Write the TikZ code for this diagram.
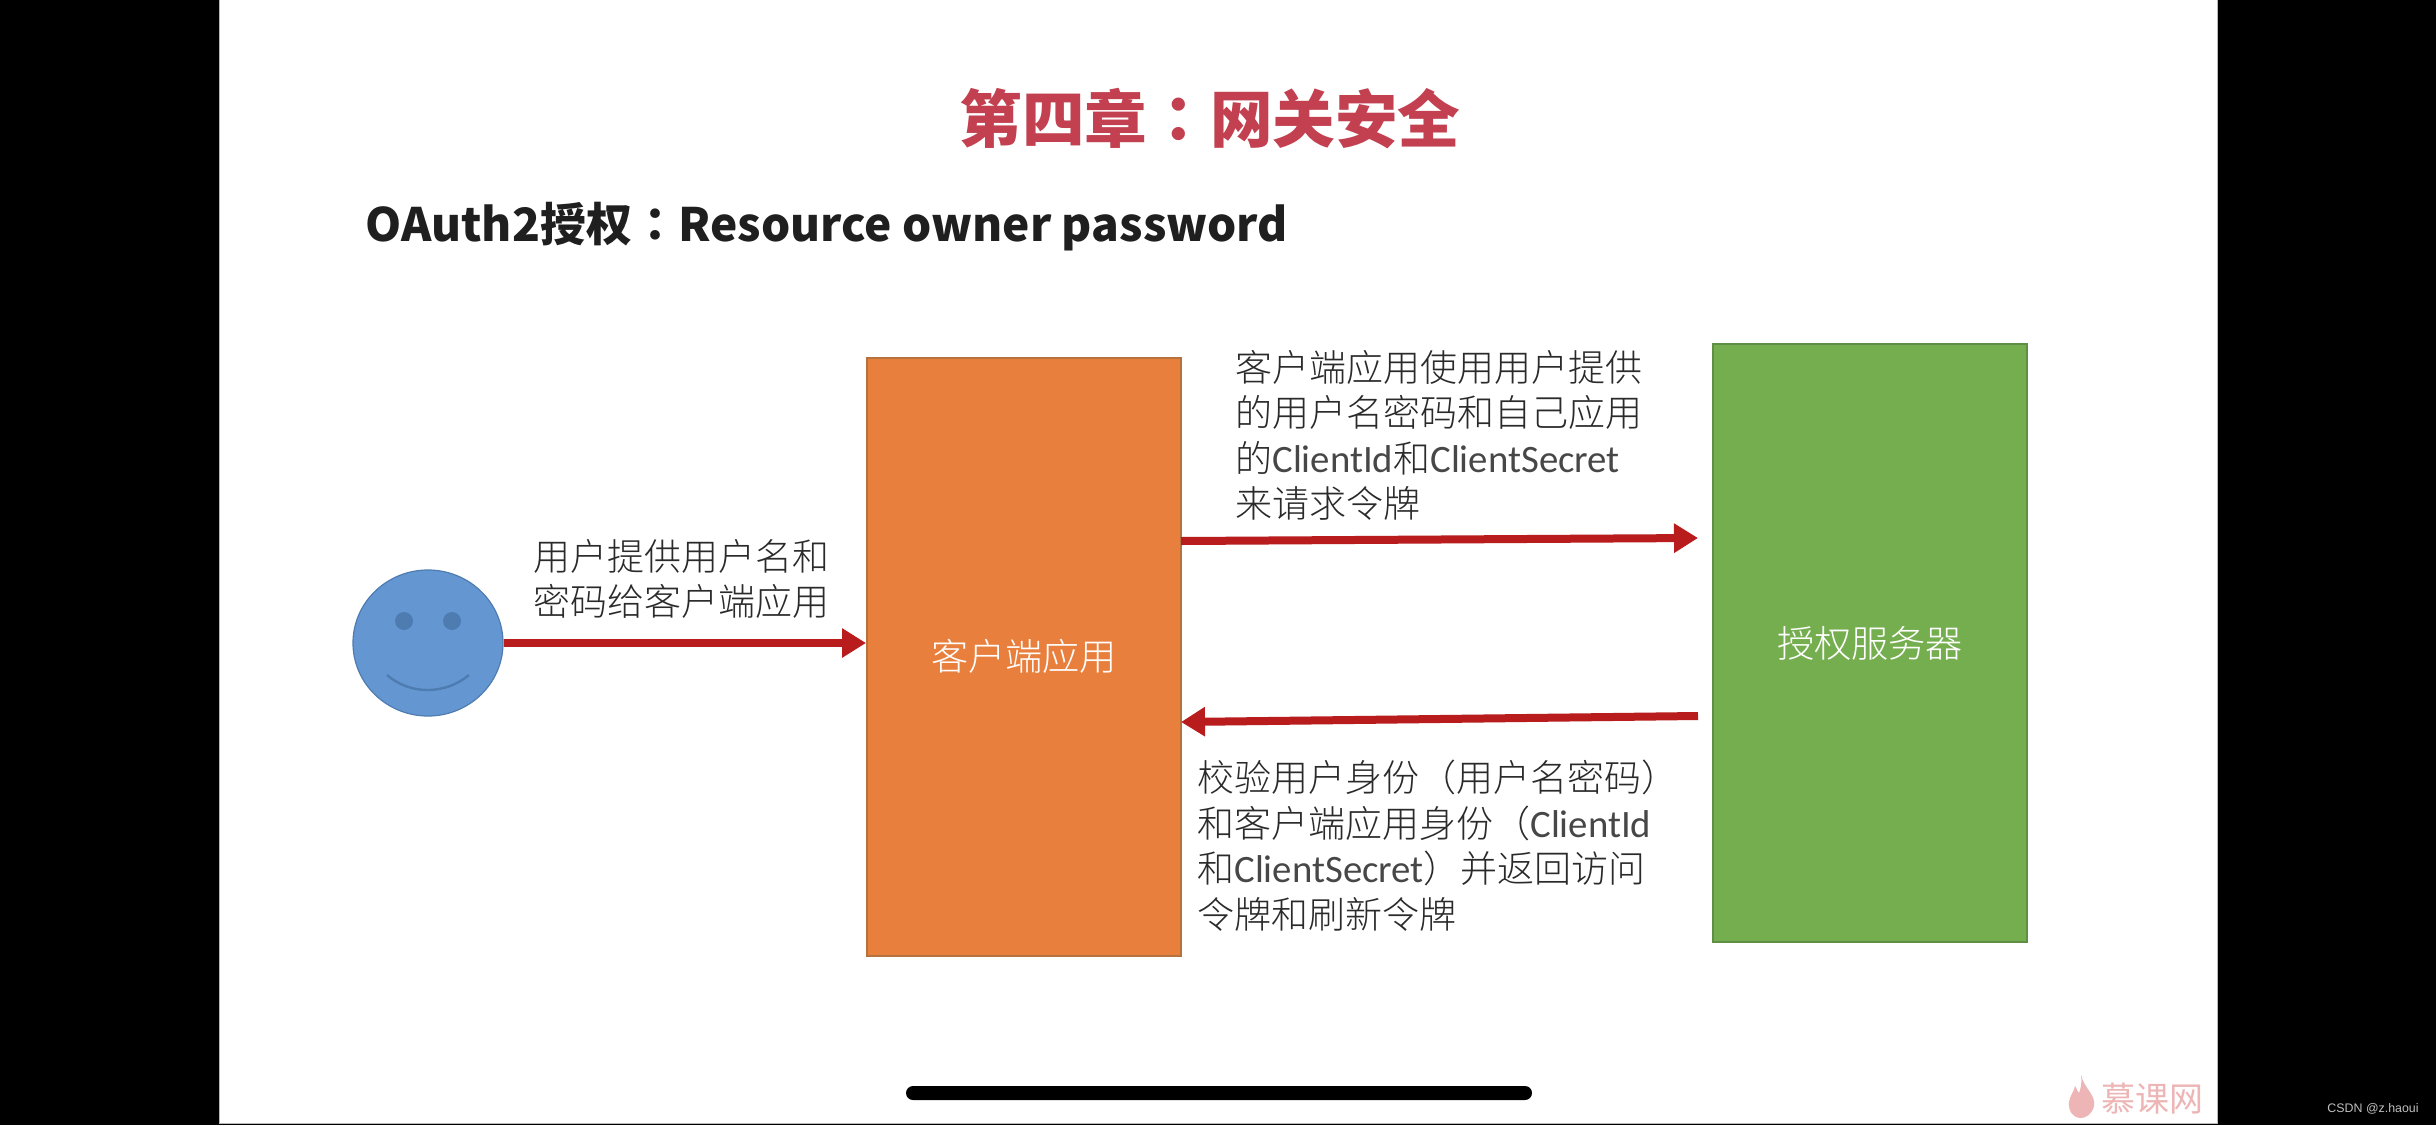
\documentclass[tikz,border=0pt]{standalone}
\usepackage{fontspec}
\setmainfont{Noto Sans CJK SC}
\newfontfamily\tcfont{Noto Sans CJK TC}
\newfontfamily\lightcjk{Noto Sans CJK SC Light}
\newfontfamily\latinpart{Carlito}
\newfontfamily\marksans{Liberation Sans}
\newcommand{\lat}[1]{{\latinpart\fontsize{19.4pt}{22.7pt}\selectfont\color{black!72}#1}}
\usetikzlibrary{arrows.meta,shapes.geometric}
\definecolor{panelline}{HTML}{B8B8B8}
\definecolor{titlered}{HTML}{C2404F}
\definecolor{inkc}{HTML}{2A2A2A}
\definecolor{orangebox}{HTML}{E97F3C}
\definecolor{orangeline}{HTML}{B5723F}
\definecolor{greenbox}{HTML}{75AE4F}
\definecolor{greenline}{HTML}{5F8F44}
\definecolor{faceblue}{HTML}{6497D2}
\definecolor{facedark}{HTML}{4E7CB0}
\definecolor{arrowred}{HTML}{B81C1C}
\definecolor{markpink}{HTML}{EDB5B5}
\tikzset{
  x=0.5pt,y=-0.5pt,
  boxnode/.style={draw,line width=1pt,minimum width=157pt,minimum height=299pt,inner sep=0pt,text=white,font=\lightcjk\fontsize{18.6pt}{22pt}\selectfont},
  labelnode/.style={anchor=north west,inner sep=0pt,align=left,text=inkc,font=\lightcjk\fontsize{18.5pt}{22.7pt}\selectfont},
  flow/.style={draw=arrowred,line width=4pt,-{Triangle[length=12pt,width=14pt,fill=arrowred]}},
}
\begin{document}
\begin{tikzpicture}
\useasboundingbox (0,0) rectangle (2436,1125);
\fill[black] (0,0) rectangle (2436,1125);
\fill[white,draw=panelline,line width=0.5pt] (219,-2) rectangle (2217,1123);

\node[inner sep=0pt,text=titlered,font=\fontsize{31.3pt}{36pt}\selectfont\bfseries] (title) at (1210,119) {第四章{\tcfont\bfseries ：}网关安全};
\node[anchor=west,inner sep=0pt,text=black!88,font=\fontsize{23pt}{28pt}\selectfont\bfseries] (sub) at (365,227) {OAuth2授权{\tcfont\bfseries ：}Resource owner password};

\node[boxnode,draw=orangeline,fill=orangebox] (client) at (1024,656.5) {客户端应用};
\node[boxnode,draw=greenline,fill=greenbox] (auth) at (1870,643) {\raisebox{-1pt}{授权服务器}};

\node[ellipse,draw=facedark,line width=0.6pt,fill=faceblue,minimum width=75pt,minimum height=73pt,inner sep=0pt] (user) at (428,643) {};
\fill[facedark] (404,621) circle (9);
\fill[facedark] (452,621) circle (9);
\draw[facedark,line width=1.2pt] (387,675) .. controls (410,695) and (445,695) .. (469,675);

\node[labelnode] (l1) at (533,539) {用户提供用户名和\\密码给客户端应用};
\node[labelnode] (l2) at (1235,350) {客户端应用使用用户提供\\的用户名密码和自己应用\\的\lat{ClientId}和\lat{ClientSecret}\\来请求令牌};
\node[labelnode] (l3) at (1197,760) {校验用户身份（用户名密码）\\和客户端应用身份（\lat{ClientId}\\和\lat{ClientSecret}）并返回访问\\令牌和刷新令牌};

\coordinate (a2s) at (1181,541);
\coordinate (a2e) at (1698,538);
\coordinate (a3s) at (1698,716);
\coordinate (a3e) at (1181,722);
\draw[flow] (user.east) -- (user.east -| client.west);
\draw[flow] (a2s) -- (a2e);
\draw[flow] (a3s) -- (a3e);

\fill[black,rounded corners=3.5pt] (906,1086) rectangle (1532,1100);

\fill[markpink] (2081,1075) .. controls (2084,1088) and (2096,1095) .. (2094,1106)
  .. controls (2092,1114) and (2086,1118) .. (2081,1118)
  .. controls (2073,1118) and (2068,1111) .. (2069,1102)
  .. controls (2070,1095) and (2074,1092) .. (2075,1086)
  .. controls (2077,1090) and (2078,1092) .. (2079,1093)
  .. controls (2081,1088) and (2082,1082) .. (2081,1075) -- cycle;
\node[inner sep=0pt,text=markpink,font=\fontsize{17pt}{20pt}\selectfont] (mark) at (2152,1099) {慕课网};
\node[anchor=east,inner sep=0pt,text=black!25,font=\marksans\fontsize{6.2pt}{8pt}\selectfont] (csdn) at (2419,1109) {CSDN @z.haoui};
\end{tikzpicture}
\end{document}
